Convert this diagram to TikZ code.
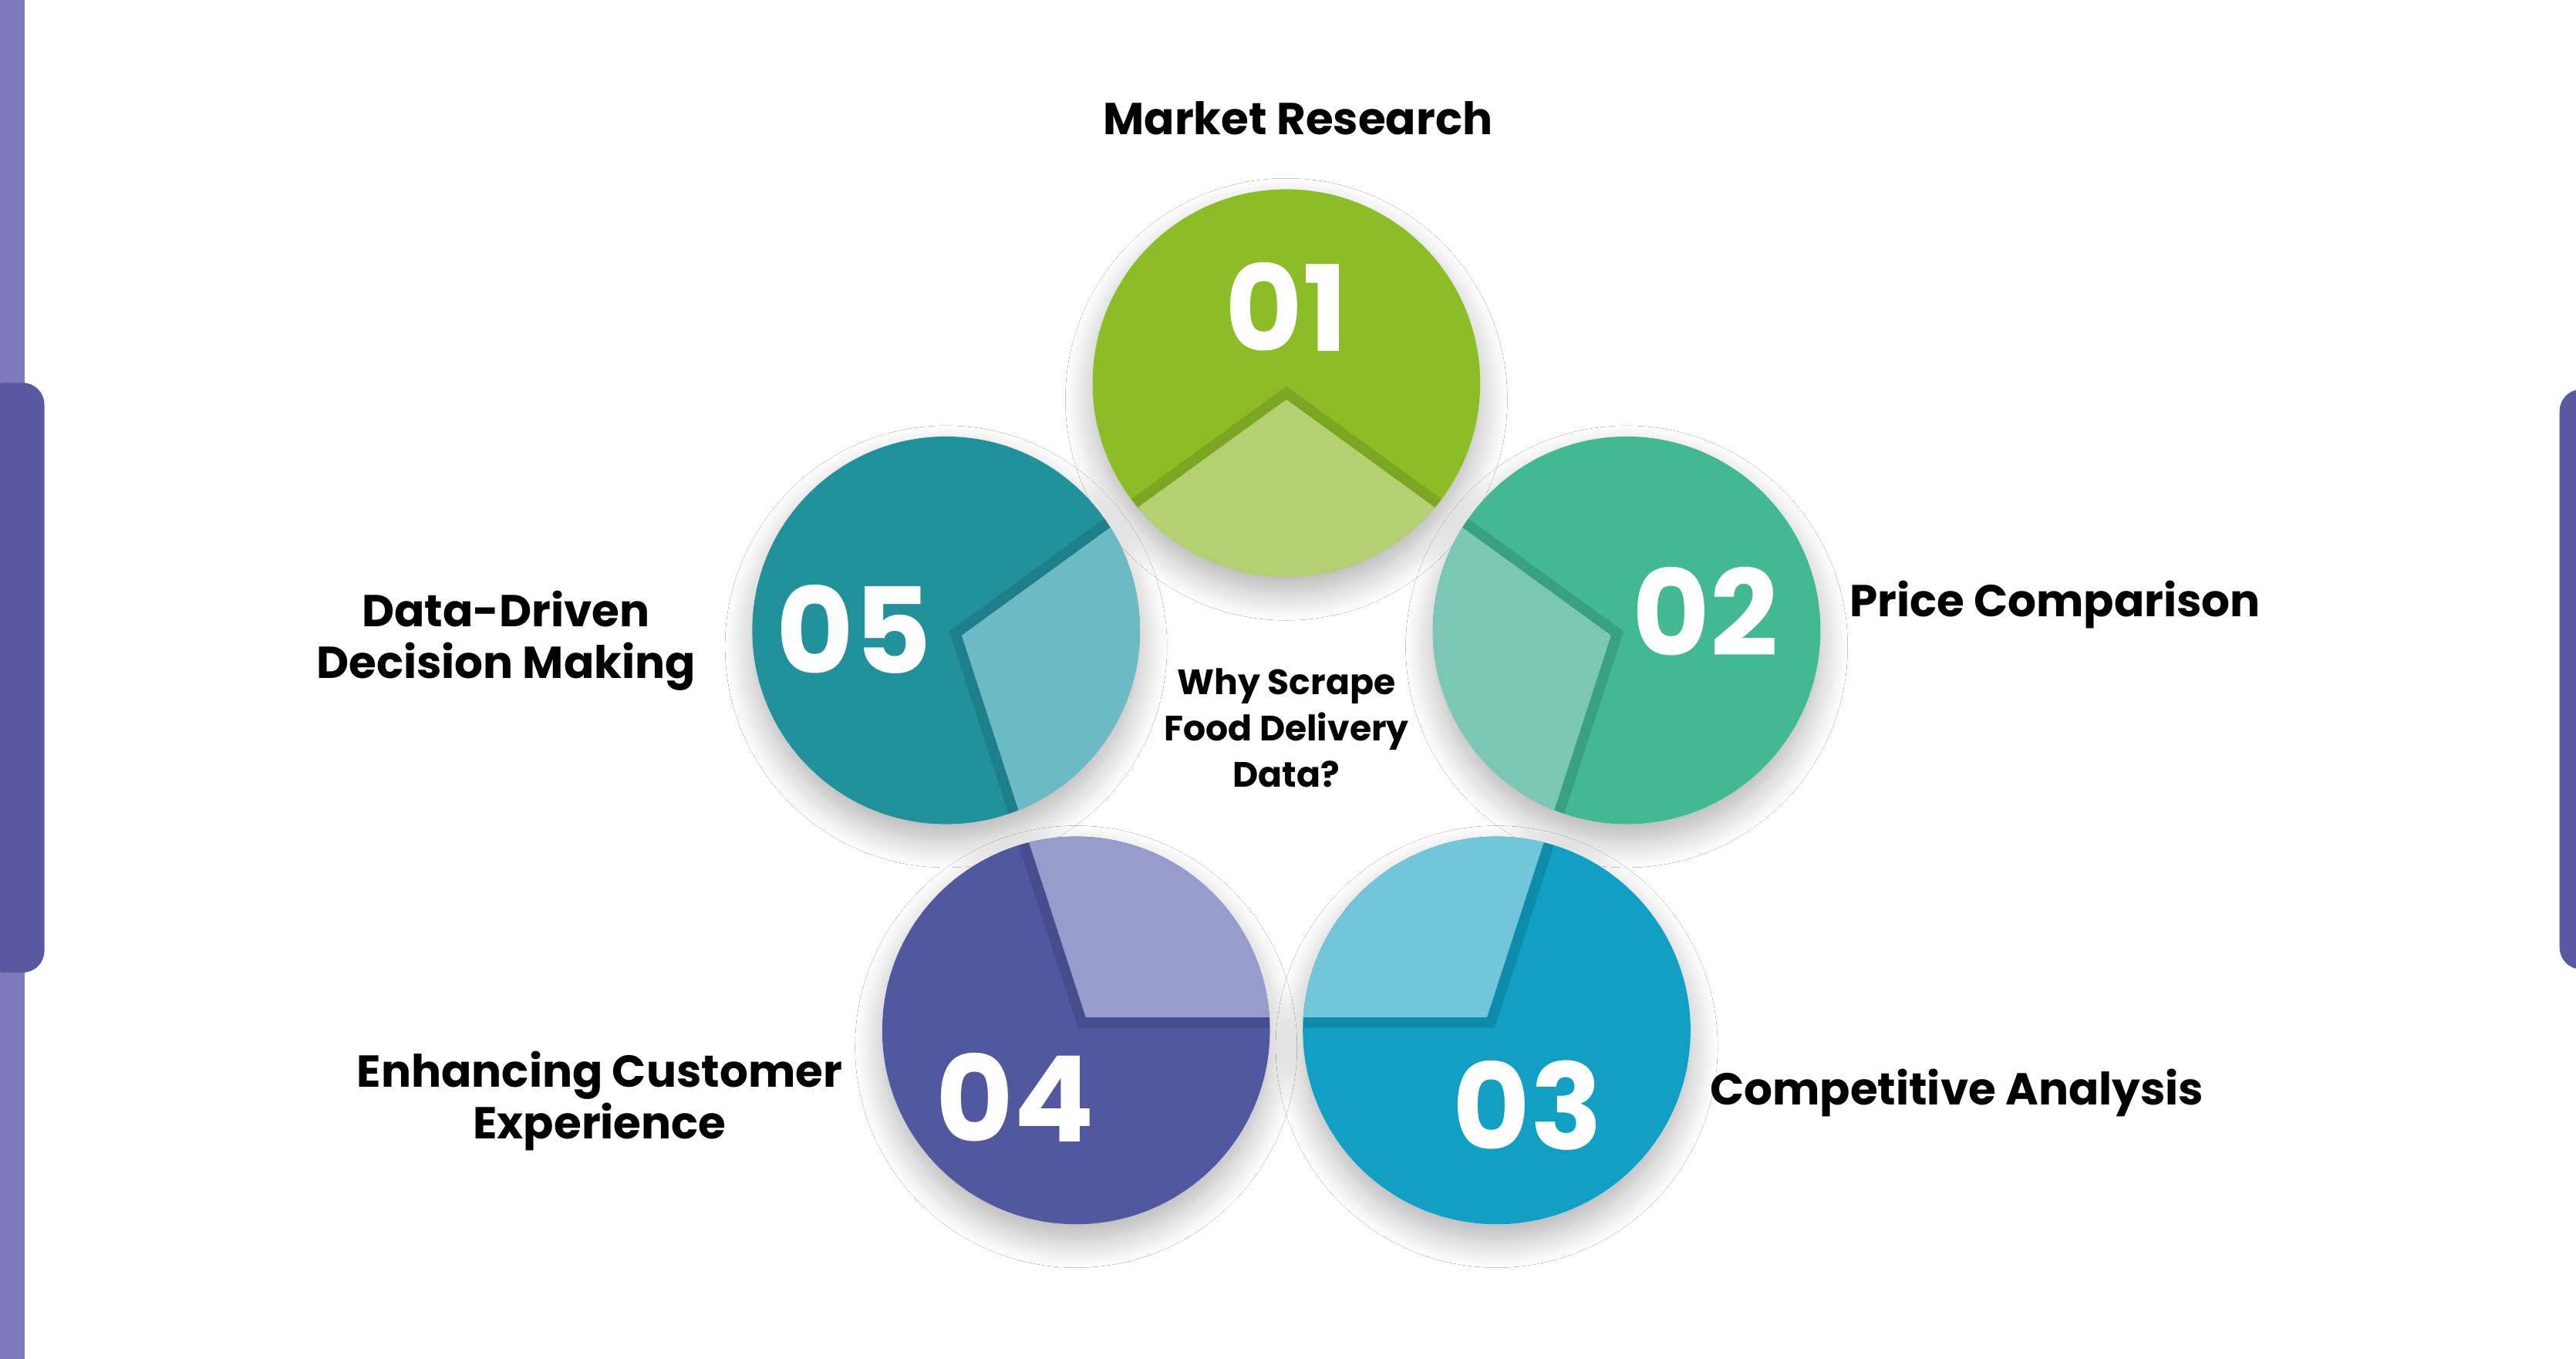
\documentclass[tikz,border=0pt]{standalone}
\usepackage{fontspec}
\setmainfont{Poppins}
\usetikzlibrary{shadows.blur,calc}
\definecolor{g1}{HTML}{8BBD27}\definecolor{l1}{HTML}{B3D173}
\definecolor{g2}{HTML}{42B893}\definecolor{l2}{HTML}{7BC6B5}
\definecolor{g3}{HTML}{119FC3}\definecolor{l3}{HTML}{71C6DA}
\definecolor{g4}{HTML}{5058A0}\definecolor{l4}{HTML}{969CCC}
\definecolor{g5}{HTML}{21919C}\definecolor{l5}{HTML}{6CBBC4}
\definecolor{barA}{HTML}{7F7BBB}\definecolor{barB}{HTML}{5A58A0}
\tikzset{
 num/.style={text=white,font=\fontsize{44}{44}\selectfont\bfseries},
 lab/.style={font=\fontsize{16.5}{19}\selectfont\bfseries,align=center},
}
\begin{document}
\begin{tikzpicture}[x=0.0213cm,y=0.0213cm]
\useasboundingbox (0,0) rectangle (1568,827);
\fill[white] (0,0) rectangle (1568,827);
\fill[barA] (0,0) rectangle (15,827);
\fill[barB,rounded corners=8] (-10,235) rectangle (27,594);
\fill[barB,rounded corners=8] (1558,237) rectangle (1580,590);
\coordinate (O) at (783,376);
\foreach \i/\t in {1/90,2/18,3/-54,4/-126,5/162}{
  \path[fill=white,blur shadow={shadow xshift=0pt,shadow yshift=-6pt,shadow blur steps=12,shadow opacity=30,shadow blur radius=10pt}]
    ($(O)+(\t:217.8)$) circle (118);
}
\foreach \i/\t in {1/90,2/18,3/-54,4/-126,5/162}{
  \coordinate (c\i) at ($(O)+(\t:217.8)$);
  \fill[g\i] (c\i) circle (118);
  \begin{scope}
    \clip (c\i) circle (118);
    \coordinate (a\i) at ($(c\i)+(\t+180:10)$);
    \fill[black,opacity=0.12] ($(a\i)+(\t:8)$) -- ++(\t+234:300) -- ++(\t+126:0) -- ($(a\i)+(\t:8)+(\t+126:300)$) -- cycle;
    \fill[l\i] (a\i) -- ($(a\i)+(\t+234:300)$) -- ($(a\i)+(\t+126:300)$) -- cycle;
  \end{scope}
}
\node[num] (n1) at (783,640) {01};
\node[num] (n2) at (1038,455) {02};
\node[num] (n3) at (930,154) {03};
\node[num] (n4) at (618,159) {04};
\node[num] (n5) at (520,444) {05};
\node[lab] (t1) at (790,755) {Market Research};
\node[lab,anchor=west] (t2) at (1120,459) {Price Comparison};
\node[lab,anchor=west] (t3) at (1035,162) {Competitive Analysis};
\node[lab] (t4) at (365,157) {Enhancing Customer\\Experience};
\node[lab] (t5) at (308,437) {Data-Driven\\Decision Making};
\node[font=\fontsize{13}{17}\selectfont\bfseries,align=center] (ct) at (783,384) {Why Scrape\\Food Delivery\\Data?};
\end{tikzpicture}
\end{document}
